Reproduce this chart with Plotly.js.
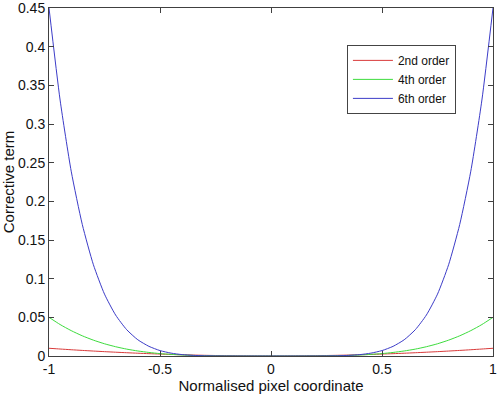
<!DOCTYPE html>
<html>
<head>
<meta charset="utf-8">
<script src="https://cdn.plot.ly/plotly-3.0.1.min.js"></script>
<style>
  html, body { margin: 0; padding: 0; background: #fff; }
  #chart { width: 497px; height: 400px; }
</style>
</head>
<body>
<div id="chart"></div>
<script>
// ── Données ───────────────────────────────────────────────────────────────────
const pixelCoord = [
  -1, -0.95, -0.9, -0.85, -0.8, -0.75, -0.7, -0.65, -0.6, -0.55, -0.5,
  -0.45, -0.4, -0.35, -0.3, -0.25, -0.2, -0.15, -0.1, -0.05, 0,
  0.05, 0.1, 0.15, 0.2, 0.25, 0.3, 0.35, 0.4, 0.45, 0.5,
  0.55, 0.6, 0.65, 0.7, 0.75, 0.8, 0.85, 0.9, 0.95, 1
];
const order2 = [
  0.01, 0.00903, 0.0081, 0.00723, 0.0064, 0.00563, 0.0049, 0.00423, 0.0036, 0.00303, 0.0025,
  0.00203, 0.0016, 0.00123, 0.0009, 0.00063, 0.0004, 0.00023, 0.0001, 0.00003, 0,
  0.00003, 0.0001, 0.00023, 0.0004, 0.00063, 0.0009, 0.00123, 0.0016, 0.00203, 0.0025,
  0.00303, 0.0036, 0.00423, 0.0049, 0.00563, 0.0064, 0.00723, 0.0081, 0.00903, 0.01
];
const order4 = [
  0.05, 0.0407, 0.0328, 0.0261, 0.0205, 0.0158, 0.012, 0.0089, 0.0065, 0.0046, 0.0031,
  0.0021, 0.0013, 0.00075, 0.0004, 0.0002, 0.00008, 0.00003, 0.000005, 0, 0,
  0, 0.000005, 0.00003, 0.00008, 0.0002, 0.0004, 0.00075, 0.0013, 0.0021, 0.0031,
  0.0046, 0.0065, 0.0089, 0.012, 0.0158, 0.0205, 0.0261, 0.0328, 0.0407, 0.05
];
const order6 = [
  0.45, 0.331, 0.239, 0.17, 0.118, 0.08, 0.053, 0.034, 0.021, 0.0125, 0.007,
  0.0037, 0.0018, 0.0008, 0.0003, 0.0001, 0.00003, 0.000005, 0, 0, 0,
  0, 0, 0.000005, 0.00003, 0.0001, 0.0003, 0.0008, 0.0018, 0.0037, 0.007,
  0.0125, 0.021, 0.034, 0.053, 0.08, 0.118, 0.17, 0.239, 0.331, 0.45
];
const seriesNames = ['2nd order', '4th order', '6th order'];
const seriesColors = ['#d93a3a', '#3ddc3d', '#3c3cc8'];
const xTicks = [-1, -0.5, 0, 0.5, 1];
const yTicks = [0, 0.05, 0.1, 0.15, 0.2, 0.25, 0.3, 0.35, 0.4, 0.45];

const FONT = 'Liberation Sans, Arial, sans-serif';

const traces = [order2, order4, order6].map((ys, i) => ({
  x: pixelCoord, y: ys, type: 'scatter', mode: 'lines', name: seriesNames[i],
  line: {color: seriesColors[i], width: 1, shape: 'spline', smoothing: 0.6}
}));

const axisBase = {
  showline: true, linecolor: '#404040', linewidth: 1, mirror: 'ticks',
  ticks: 'inside', ticklen: 5, tickcolor: '#404040', tickwidth: 1,
  showgrid: false, zeroline: false, automargin: false,
  ticklabeloverflow: 'allow',
  tickfont: {family: FONT, size: 14, color: '#111'}
};

const layout = {
  width: 497, height: 400,
  margin: {l: 49, r: 4, t: 8, b: 44},
  paper_bgcolor: '#fff', plot_bgcolor: '#fff',
  font: {family: FONT, color: '#111'},
  xaxis: Object.assign({}, axisBase, {
    range: [-1, 1], tickvals: xTicks, ticktext: xTicks.map(String),
    title: {text: 'Normalised pixel coordinate', font: {family: FONT, size: 15, color: '#111'}, standoff: 4}
  }),
  yaxis: Object.assign({}, axisBase, {
    range: [0, 0.45], tickvals: yTicks, ticktext: yTicks.map(String),
    title: {text: 'Corrective term', font: {family: FONT, size: 15, color: '#111'}, standoff: 2}
  }),
  showlegend: true,
  legend: {
    x: 0.671, y: 0.894, xanchor: 'left', yanchor: 'top',
    bgcolor: '#fff', bordercolor: '#444', borderwidth: 1,
    font: {family: FONT, size: 12, color: '#111'},
    tracegroupgap: 0, itemwidth: 40
  }
};

Plotly.newPlot('chart', traces, layout, {staticPlot: true, displayModeBar: false});
</script>
</body>
</html>
